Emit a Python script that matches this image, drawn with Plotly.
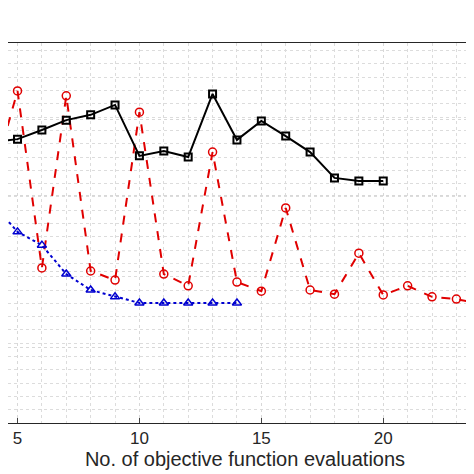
import plotly.graph_objects as go

# objective function evaluations
x_red = list(range(4, 25))
y_red = [6.45, 8.74, 4.08, 8.61, 4.00, 3.76, 8.18, 3.92, 3.61, 7.13, 3.71,
         3.47, 5.66, 3.50, 3.39, 4.47, 3.37, 3.61, 3.32, 3.26, 3.13]

x_black = list(range(4, 21))
y_black = [7.39, 7.47, 7.71, 7.97, 8.11, 8.37, 7.03, 7.16, 7.00, 8.66, 7.45,
           7.95, 7.55, 7.13, 6.45, 6.37, 6.37]

x_blue = list(range(4, 15))
y_blue = [5.76, 5.03, 4.68, 3.92, 3.50, 3.32, 3.16, 3.16, 3.16, 3.16, 3.16]

fig = go.Figure()
fig.add_trace(go.Scatter(x=x_red, y=y_red, mode='lines+markers', cliponaxis=True,
                         line=dict(color='#e00000', width=2, dash='dash'),
                         marker=dict(symbol='circle-open', size=8, color='#e00000', line=dict(width=1.5))))
fig.add_trace(go.Scatter(x=x_black, y=y_black, mode='lines+markers',
                         line=dict(color='black', width=2),
                         marker=dict(symbol='square-open', size=7, color='black', line=dict(width=2))))
fig.add_trace(go.Scatter(x=x_blue, y=y_blue, mode='lines+markers',
                         line=dict(color='#0000d0', width=2, dash='dot'),
                         marker=dict(symbol='triangle-up-open', size=8, color='#0000d0', line=dict(width=1.5))))

grid = dict(showgrid=True, gridcolor='#d8d8d8', griddash='dot', gridwidth=1)
fig.update_layout(
    width=474, height=474, showlegend=False,
    plot_bgcolor='white', paper_bgcolor='white',
    margin=dict(l=0, r=0, t=35, b=59),
    font=dict(family='Liberation Sans, Arial', size=17, color='#262626'),
    xaxis=dict(range=[4.61, 24.05], tickvals=[5, 10, 15, 20], ticks='inside', ticklen=5,
               showline=True, linecolor='#262626', mirror=True, automargin=False,
               title=dict(text='No. of objective function evaluations', standoff=2),
               minor=dict(dtick=1, showgrid=True, gridcolor='#dcdcdc', griddash='dot'),
               zeroline=False, **grid),
    yaxis=dict(range=[0, 10], dtick=2, showticklabels=False, ticks='',
               showline=True, linecolor='#262626', mirror=True, automargin=False,
               minor=dict(dtick=0.35, showgrid=True, gridcolor='#dcdcdc', griddash='dot'),
               zeroline=False, **grid),
)
fig.write_html("out.html")
